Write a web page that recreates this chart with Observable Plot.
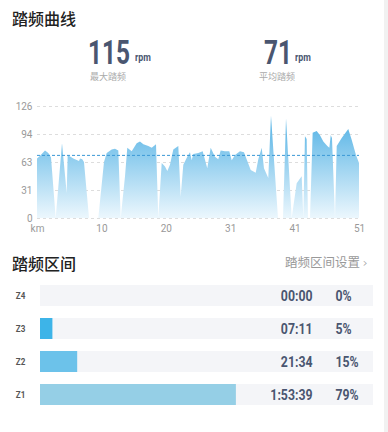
<!DOCTYPE html>
<html><head><meta charset="utf-8">
<script src="https://cdn.jsdelivr.net/npm/d3@7"></script>
<script src="https://cdn.jsdelivr.net/npm/@observablehq/plot@0.6"></script>
<style>
body{margin:0;background:#fff;width:388px;height:432px;overflow:hidden;position:relative;font-family:"Noto Sans CJK SC","Noto Sans",sans-serif;}
.abs{position:absolute;white-space:nowrap;}
.title{font-size:16px;line-height:16px;color:#222;font-weight:500;}
.num{font-family:Roboto,sans-serif;font-weight:bold;color:#4a5670;transform-origin:left top;}
.big{font-size:33px;line-height:27px;transform:scaleX(0.74);}
.unit{font-size:11px;line-height:11px;transform:scaleX(0.8);}
.lab{font-size:9px;line-height:9px;color:#aaa;}
.link{font-size:12.5px;line-height:12.5px;color:#999;}
#edge{position:absolute;left:384px;top:0;width:4px;height:432px;background:#f1f1f1;}
</style></head>
<body>
<div class="abs title" style="left:12px;top:9.5px">踏频曲线</div>
<div class="abs num big" style="left:88px;top:39px">115</div>
<div class="abs num unit" style="left:135px;top:51.5px">rpm</div>
<div class="abs lab" style="left:90px;top:71.5px">最大踏频</div>
<div class="abs num big" style="left:264px;top:39px">71</div>
<div class="abs num unit" style="left:295px;top:51.5px">rpm</div>
<div class="abs lab" style="left:259px;top:71.5px">平均踏频</div>
<div id="area" class="abs" style="left:0;top:96px"></div>
<div class="abs title" style="left:12px;top:254.5px">踏频区间</div>
<div class="abs link" style="left:285px;top:256px">踏频区间设置 <span style="font-family:'DejaVu Sans';font-weight:300">›</span></div>
<div id="bars" class="abs" style="left:0;top:272px"></div>
<div id="edge"></div>
<script>
// cadence curve data (km, rpm)
const km = [0,0.48,1.27,1.79,2.22,2.96,3.96,4.70,4.86,5.75,6.65,6.81,7.17,7.44,8.24,9.71,10.61,11.04,11.83,12.35,12.88,13.26,13.94,14.30,15.00,15.79,16.31,16.84,17.63,18.17,18.85,19.21,19.75,20.27,20.64,21.06,21.59,22.38,22.76,23.17,23.80,24.23,24.50,24.75,25.55,26.24,26.97,27.51,28.19,28.71,29.09,29.77,30.46,30.84,31.36,32.15,32.78,33.31,33.85,34.64,35.05,35.59,35.95,36.63,37.06,38.17,38.96,39.44,40.34,41.13,41.92,42.18,42.44,42.71,42.92,43.24,43.66,44.30,44.82,45.35,45.98,46.30,46.52,46.72,47.20,47.47,48.26,49.30,49.84,50.52,51];
const cadence = [67,70,76,73,68,0,84,28,71,67,64,67,66,63,0,0,63,73,77,78,76,0,47,79,75,84,86,83,81,79,83,0,62,58,53,60,77,81,24,60,69,74,65,72,73,75,56,79,69,66,76,75,75,65,71,75,74,64,54,51,66,79,56,45,115,0,0,112,0,39,47,0,92,89,0,0,96,98,93,86,81,79,93,90,0,81,90,100,88,71,62];
const avgCadence = 71;
const xTicks = [0,10.2,20.4,30.6,40.8,51];
const xTickLabels = ["km","10","20","31","41","51"];
const yTicks = [0,31.5,63,94.5,126];
const yTickLabels = ["0","31","63","94","126"];

// zone data
const zones = ["Z4","Z3","Z2","Z1"];
const zoneTimes = ["00:00","07:11","21:34","1:53:39"];
const zonePct = [0,5,15,79];

const series = km.map((k,i)=>({km:k, v:cadence[i]}));

const gradient = () => {
  const ns = "http://www.w3.org/2000/svg";
  const defs = document.createElementNS(ns,"defs");
  const lg = document.createElementNS(ns,"linearGradient");
  lg.setAttribute("id","cadGrad");
  lg.setAttribute("x1","0");lg.setAttribute("y1","0");lg.setAttribute("x2","0");lg.setAttribute("y2","1");
  [["0%","#4fb0e4"],["100%","#ecf7fd"]].forEach(([o,c])=>{
    const s=document.createElementNS(ns,"stop");s.setAttribute("offset",o);s.setAttribute("stop-color",c);lg.appendChild(s);
  });
  defs.appendChild(lg);
  return defs;
};

const area = Plot.plot({
  width:388, height:140, marginTop:10, marginBottom:18, marginLeft:37, marginRight:29,
  x:{domain:[0,51], label:null},
  y:{domain:[0,126], label:null},
  style:{fontFamily:"Roboto, sans-serif", fontSize:"10px", color:"#999", background:"transparent"},
  marks:[
    gradient,
    Plot.gridY(yTicks,{stroke:"#ddd", strokeOpacity:1, strokeDasharray:"3,3"}),
    Plot.areaY(series,{x:"km", y:"v", fill:"url(#cadGrad)"}),
    Plot.ruleY([avgCadence],{stroke:"#3a98d6", strokeDasharray:"3,2", strokeWidth:1}),
    Plot.axisY(yTicks,{tickSize:0, tickPadding:5, label:null, fill:"#999", tickFormat:d=>yTickLabels[yTicks.indexOf(d)]}),
    Plot.axisX(xTicks,{tickSize:0, tickPadding:6, label:null, fill:"#999", tickFormat:d=>xTickLabels[xTicks.indexOf(d)]})
  ]
});
document.getElementById("area").appendChild(area);

const rows = zones.map((z,i)=>({zone:z, time:zoneTimes[i], pct:zonePct[i], pctLabel:zonePct[i]+"%"}));
const xMax = 134.3;
const bars = Plot.plot({
  width:388, height:147, marginTop:0, marginBottom:0, marginLeft:40, marginRight:15,
  x:{domain:[0,xMax], axis:null},
  y:{domain:zones, padding:0.35, axis:null},
  color:{domain:zones, range:["#3db4e8","#3db4e8","#6cc2ea","#95cfe6"]},
  style:{background:"transparent", fontFamily:"Roboto, sans-serif"},
  marks:[
    Plot.barX(rows,{y:"zone", x1:0, x2:xMax, fill:"#f4f5f8"}),
    Plot.barX(rows,{y:"zone", x1:0, x2:"pct", fill:"zone"}),
    Plot.text(rows,{y:"zone", text:"zone", frameAnchor:"left", dx:-20, textAnchor:"middle", fontWeight:"bold", fontSize:9.5, fill:"#555", className:"zl"}),
    Plot.text(rows,{y:"zone", text:"time", frameAnchor:"right", dx:-61, textAnchor:"end", fontWeight:"bold", fontSize:15, fill:"#4a5670", className:"zt"}),
    Plot.text(rows,{y:"zone", text:"pctLabel", frameAnchor:"right", dx:-38, textAnchor:"start", fontWeight:"bold", fontSize:15, fill:"#4a5670", className:"zp"})
  ]
});
document.getElementById("bars").appendChild(bars);
// condense the numeric labels (narrow display face in the reference): scale about each text's anchor
function condense(sel, k) {
  d3.select(bars).selectAll(sel).each(function() {
    const t = this.getAttribute("transform") || "";
    this.setAttribute("transform", `${t} scale(${k},1)`);
  });
}
condense("g.zt text", 0.82);
condense("g.zp text", 0.82);
condense("g.zl text", 0.85);
</script>
</body></html>
